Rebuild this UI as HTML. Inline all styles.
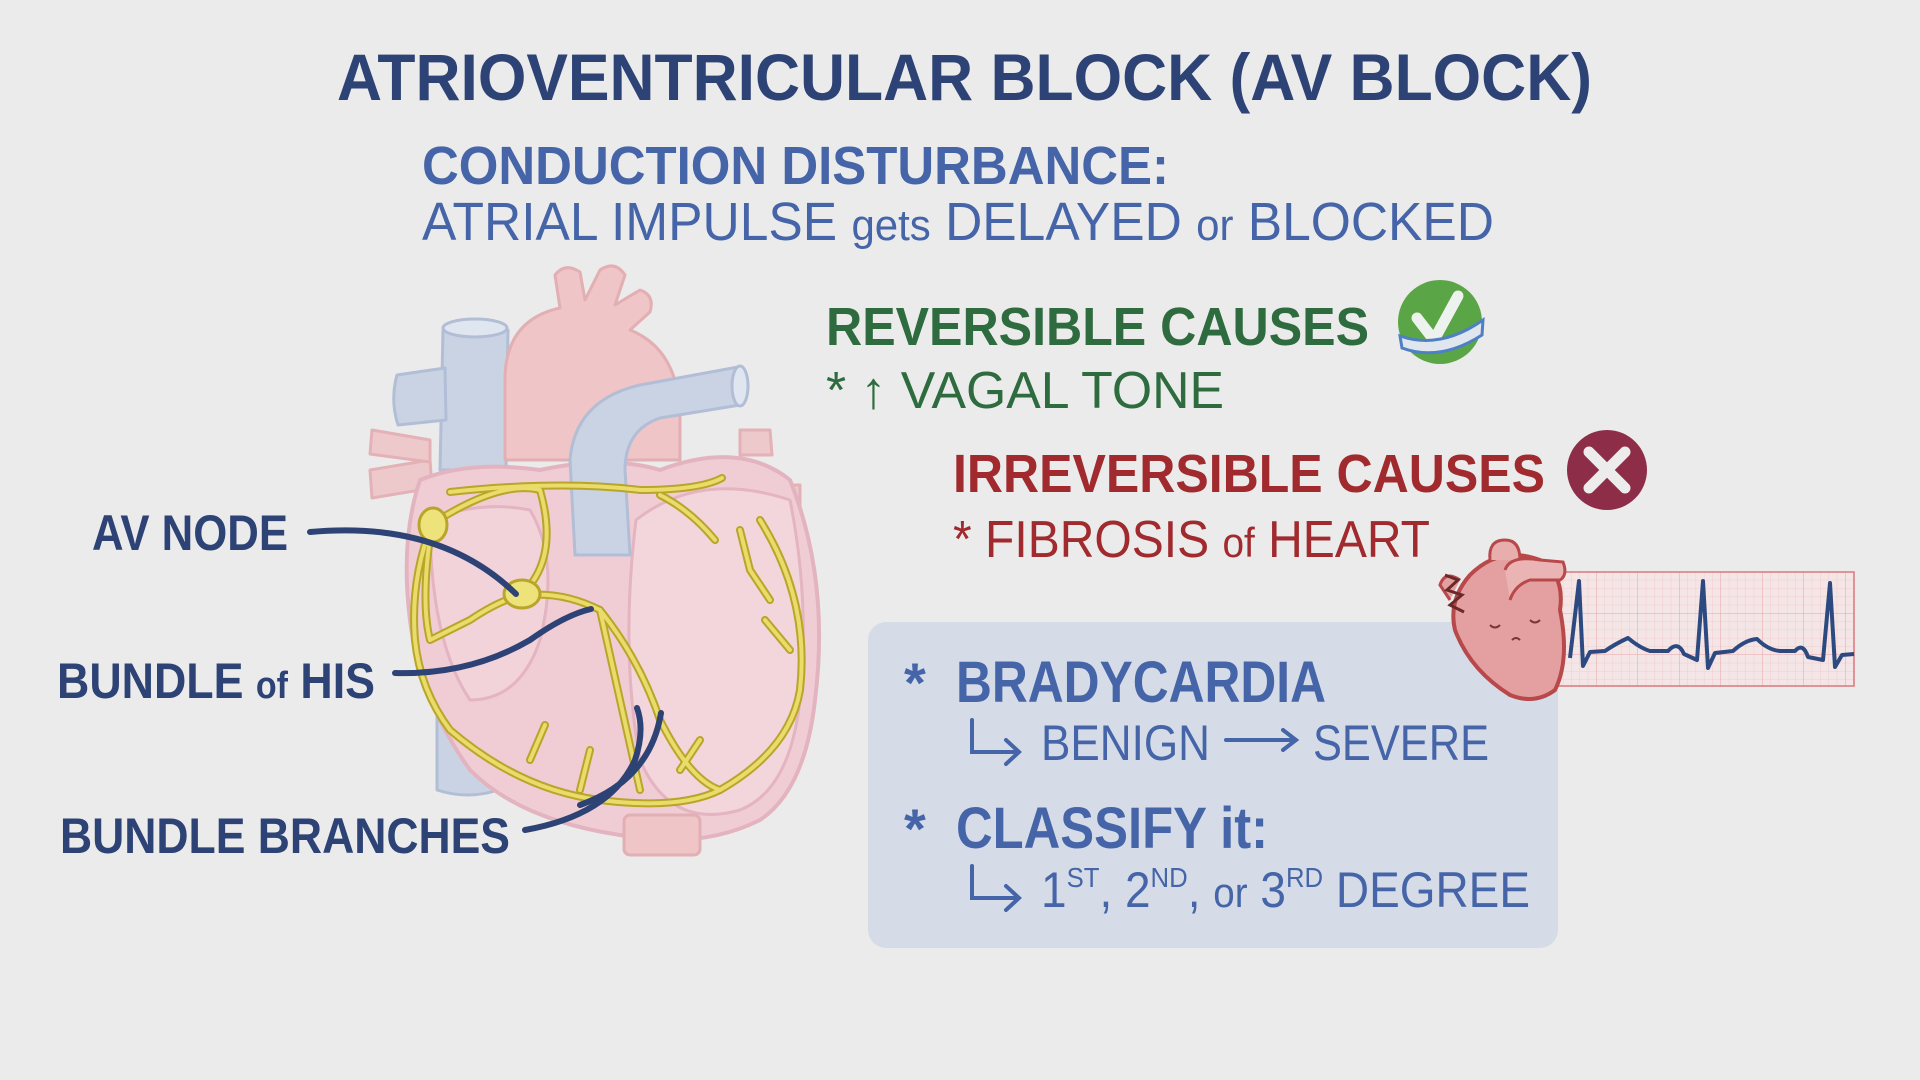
<!DOCTYPE html>
<html><head><meta charset="utf-8"><style>
html,body{margin:0;padding:0;background:#ebebeb;}
svg{display:block}
text{font-family:"Liberation Sans",sans-serif;}
</style></head><body>
<svg width="1920" height="1080" viewBox="0 0 1920 1080" xmlns="http://www.w3.org/2000/svg">
<rect width="1920" height="1080" fill="#ebebeb"/>

<!-- Titles -->
<text x="337" y="100" font-size="66" font-weight="bold" fill="#2d4275" textLength="1255" lengthAdjust="spacingAndGlyphs">ATRIOVENTRICULAR BLOCK (AV BLOCK)</text>
<text x="422" y="184" font-size="54" font-weight="bold" fill="#4565a8" textLength="747" lengthAdjust="spacingAndGlyphs">CONDUCTION DISTURBANCE:</text>
<text x="422" y="240" font-size="54" fill="#4565a8" textLength="1072" lengthAdjust="spacingAndGlyphs">ATRIAL IMPULSE <tspan font-size="44">gets</tspan> DELAYED <tspan font-size="44">or</tspan> BLOCKED</text>

<!-- Reversible -->
<text x="826" y="345" font-size="54" font-weight="bold" fill="#2e6b3e" textLength="543" lengthAdjust="spacingAndGlyphs">REVERSIBLE CAUSES</text>
<text x="826" y="408" font-size="52" fill="#2e6b3e" textLength="398" lengthAdjust="spacingAndGlyphs">* ↑ VAGAL TONE</text>
<circle cx="1440" cy="322" r="42" fill="#5aa546"/>
<path d="M1417 318 L1434 340 L1458 296" stroke="#eef2ee" stroke-width="11" fill="none" stroke-linecap="round" stroke-linejoin="round"/>
<path d="M1400 336 Q1440 350 1483 320 L1482 335 Q1440 362 1402 348 Z" fill="#dfe6ee" stroke="#4f7fc4" stroke-width="3"/>

<!-- Irreversible -->
<text x="953" y="492" font-size="54" font-weight="bold" fill="#a02a2e" textLength="592" lengthAdjust="spacingAndGlyphs">IRREVERSIBLE CAUSES</text>
<text x="953" y="557" font-size="52" fill="#a02a2e" textLength="477" lengthAdjust="spacingAndGlyphs">* FIBROSIS <tspan font-size="42">of</tspan> HEART</text>
<circle cx="1607" cy="470" r="40" fill="#8e2d48"/>
<path d="M1589 452 L1625 488 M1625 452 L1589 488" stroke="#ececec" stroke-width="11" stroke-linecap="round"/>

<!-- Box -->
<rect x="868" y="622" width="690" height="326" rx="18" fill="#d5dce8"/>
<text x="904" y="702" font-size="56" font-weight="bold" fill="#4565a8">*</text>
<text x="956" y="702" font-size="58" font-weight="bold" fill="#4565a8" textLength="370" lengthAdjust="spacingAndGlyphs">BRADYCARDIA</text>
<path d="M972 720 L972 752 L1018 752 M1006 740 L1019 752 L1006 764" stroke="#4565a8" stroke-width="4" fill="none" stroke-linecap="round"/>
<text x="1041" y="760" font-size="50" fill="#4565a8" textLength="169" lengthAdjust="spacingAndGlyphs">BENIGN</text>
<path d="M1226 740 L1295 740 M1283 730 L1296 740 L1283 750" stroke="#4565a8" stroke-width="4" fill="none" stroke-linecap="round"/>
<text x="1313" y="760" font-size="50" fill="#4565a8" textLength="176" lengthAdjust="spacingAndGlyphs">SEVERE</text>
<text x="904" y="848" font-size="56" font-weight="bold" fill="#4565a8">*</text>
<text x="956" y="848" font-size="58" font-weight="bold" fill="#4565a8" textLength="312" lengthAdjust="spacingAndGlyphs">CLASSIFY it:</text>
<path d="M972 866 L972 898 L1018 898 M1006 886 L1019 898 L1006 910" stroke="#4565a8" stroke-width="4" fill="none" stroke-linecap="round"/>
<text x="1041" y="907" font-size="50" fill="#4565a8" textLength="489" lengthAdjust="spacingAndGlyphs">1<tspan font-size="28" dy="-20">ST</tspan><tspan dy="20">, 2</tspan><tspan font-size="28" dy="-20">ND</tspan><tspan dy="20">, </tspan><tspan font-size="42">or</tspan> 3<tspan font-size="28" dy="-20">RD</tspan><tspan dy="20"> DEGREE</tspan></text>

<!-- ECG -->
<defs>
<pattern id="g" width="8.3" height="8.3" patternUnits="userSpaceOnUse" x="1555" y="572"><path d="M8.3 0 V8.3 M0 8.3 H8.3" stroke="#f2c6c6" stroke-width="0.8"/></pattern>
<pattern id="G" width="41.5" height="41.5" patternUnits="userSpaceOnUse" x="1555" y="572"><path d="M41.5 0 V41.5 M0 41.5 H41.5" stroke="#e7a2a4" stroke-width="1"/></pattern>
</defs>
<rect x="1555" y="572" width="299" height="114" fill="#f4e6e6"/>
<rect x="1555" y="572" width="299" height="114" fill="url(#g)"/>
<rect x="1555" y="572" width="299" height="114" fill="url(#G)"/>
<rect x="1555" y="572" width="299" height="114" fill="none" stroke="#d9787c" stroke-width="1.5"/>
<path d="M1570 658 L1579 581 L1583 666 L1590 652 L1605 651 Q1615 644 1628 638 Q1640 648 1650 651 L1668 651 Q1678 640 1684 654 L1697 660 L1703 581 L1708 668 L1715 653 L1733 651 Q1745 640 1757 639 Q1768 650 1780 651 L1795 651 Q1803 642 1808 657 L1823 660 L1830 583 L1835 667 L1842 655 L1854 654" stroke="#2d4a80" stroke-width="4" fill="none" stroke-linejoin="round"/>

<!-- small heart -->
<g>
<path d="M1470 575 Q1500 545 1540 560 Q1565 575 1560 610 Q1570 660 1555 690 Q1535 705 1510 695 Q1470 670 1455 630 Q1448 600 1470 575 Z" fill="#e4a0a0" stroke="#b8484a" stroke-width="4"/>
<path d="M1490 560 Q1488 540 1505 540 Q1520 540 1520 560" fill="#e8aeae" stroke="#b8484a" stroke-width="3"/>
<path d="M1505 570 Q1510 555 1540 560 L1563 562 Q1568 575 1560 580 L1530 580 Q1515 585 1510 600" fill="#eab4b4" stroke="#b8484a" stroke-width="3"/>
<path d="M1460 580 Q1445 570 1440 585 L1450 600" fill="#e4a0a0" stroke="#b8484a" stroke-width="3"/>
<path d="M1445 575 L1458 580 L1447 590 L1462 595 L1450 605 L1464 612" stroke="#6a2a2a" stroke-width="3" fill="none"/>
<path d="M1490 625 q5 5 10 0 M1530 620 q5 5 10 0 M1512 640 q4 -4 8 0" stroke="#7a3434" stroke-width="2" fill="none"/>
</g>

<!-- Big heart -->
<g stroke-linejoin="round">
<!-- pink vessels left -->
<path d="M370 470 L430 460 L432 488 L372 498 Z" fill="#eec9cc" stroke="#e3b1b6" stroke-width="3"/>
<path d="M372 430 L430 440 L430 462 L370 454 Z" fill="#eec9cc" stroke="#e3b1b6" stroke-width="3"/>
<!-- right pink vessels -->
<path d="M800 485 L775 485 L770 510 L800 508 Z" fill="#eec9cc" stroke="#e3b1b6" stroke-width="3"/>
<path d="M770 430 L740 430 L740 455 L772 455 Z" fill="#eec9cc" stroke="#e3b1b6" stroke-width="3"/>
<!-- SVC / IVC -->
<path d="M443 330 Q475 318 508 330 L506 470 L440 470 Z" fill="#c9d3e4" stroke="#b2bed6" stroke-width="3"/>
<ellipse cx="475" cy="328" rx="32" ry="9" fill="#dfe6f0" stroke="#b2bed6" stroke-width="3"/>
<path d="M437 700 L500 700 L498 790 Q468 800 437 790 Z" fill="#c9d3e4" stroke="#b2bed6" stroke-width="3"/>
<path d="M397 375 L445 368 L446 420 L398 425 Q390 400 397 375 Z" fill="#c9d3e4" stroke="#b2bed6" stroke-width="3"/>
<!-- aorta -->
<path d="M505 440 L505 380 Q505 320 560 308 L555 275 Q565 262 580 272 L585 300 L600 270 Q615 260 625 275 L615 305 L640 290 Q655 295 650 312 L630 330 Q680 350 680 420 L680 460 L505 460 Z" fill="#efc5c7" stroke="#e2afb3" stroke-width="3"/>
<!-- heart body -->
<path d="M420 480 Q470 460 540 470 Q610 455 660 470 Q740 440 790 480 Q830 580 815 700 Q805 790 760 820 Q700 850 620 835 Q520 820 470 770 Q420 700 410 620 Q400 540 420 480 Z" fill="#f0cdd5" stroke="#e3b4bf" stroke-width="4"/>
<path d="M636 520 Q700 470 790 500 Q810 600 800 700 Q790 790 740 810 Q670 830 640 760 Q620 650 636 520 Z" fill="#f3d6dc" stroke="#e4b4c0" stroke-width="3"/>
<path d="M430 520 Q480 500 530 510 Q560 560 540 640 Q520 700 470 700 Q430 640 430 520 Z" fill="#f2d3da" stroke="#e4b4c0" stroke-width="3"/>
<rect x="624" y="815" width="76" height="40" rx="6" fill="#efc5c7" stroke="#e2afb3" stroke-width="3"/>
<!-- pulmonary trunk -->
<path d="M575 555 L570 460 Q575 400 640 385 L738 367 Q750 385 740 405 L660 418 Q625 430 625 470 L630 555 Z" fill="#c9d3e4" stroke="#b2bed6" stroke-width="3"/>
<ellipse cx="740" cy="386" rx="8" ry="20" fill="#dfe6f0" stroke="#b2bed6" stroke-width="3"/>
<!-- conduction -->
<g stroke="#b8a52a" stroke-width="8" fill="none" stroke-linecap="round">
<path d="M432 524 Q410 580 415 640 Q420 690 450 730 Q520 790 600 800 Q680 810 720 790 Q790 750 800 690 Q810 600 760 520"/>
<path d="M432 524 Q500 480 540 490 Q560 560 520 596"/>
<path d="M432 524 Q420 600 430 640 L470 620 Q500 600 520 596"/>
<path d="M520 596 Q560 590 600 610 Q640 660 660 720 Q690 780 720 790"/>
<path d="M600 610 Q620 700 640 790"/>
<path d="M450 492 Q560 480 640 490 Q700 490 722 478 M660 495 Q690 510 715 540"/>
<path d="M740 530 L750 570 L770 600 M765 620 L790 650"/>
<path d="M530 760 L545 725 M580 790 L590 750 M680 770 L700 740"/>
</g>
<g stroke="#e9dc6a" stroke-width="4" fill="none" stroke-linecap="round">
<path d="M432 524 Q410 580 415 640 Q420 690 450 730 Q520 790 600 800 Q680 810 720 790 Q790 750 800 690 Q810 600 760 520"/>
<path d="M432 524 Q500 480 540 490 Q560 560 520 596"/>
<path d="M432 524 Q420 600 430 640 L470 620 Q500 600 520 596"/>
<path d="M520 596 Q560 590 600 610 Q640 660 660 720 Q690 780 720 790"/>
<path d="M600 610 Q620 700 640 790"/>
<path d="M450 492 Q560 480 640 490 Q700 490 722 478 M660 495 Q690 510 715 540"/>
<path d="M740 530 L750 570 L770 600 M765 620 L790 650"/>
<path d="M530 760 L545 725 M580 790 L590 750 M680 770 L700 740"/>
</g>
<ellipse cx="433" cy="525" rx="14" ry="17" fill="#ede37a" stroke="#b8a52a" stroke-width="3"/>
<ellipse cx="522" cy="594" rx="18" ry="14" fill="#ede37a" stroke="#b8a52a" stroke-width="3"/>
</g>

<!-- labels -->
<text x="92" y="550" font-size="50" font-weight="bold" fill="#2d4275" textLength="196" lengthAdjust="spacingAndGlyphs">AV NODE</text>
<text x="57" y="698" font-size="50" font-weight="bold" fill="#2d4275" textLength="318" lengthAdjust="spacingAndGlyphs">BUNDLE <tspan font-size="38">of</tspan> HIS</text>
<text x="60" y="853" font-size="50" font-weight="bold" fill="#2d4275" textLength="450" lengthAdjust="spacingAndGlyphs">BUNDLE BRANCHES</text>
<g stroke="#2d4275" stroke-width="6" fill="none" stroke-linecap="round">
<path d="M310 532 Q440 520 516 594"/>
<path d="M395 673 Q470 675 530 640 Q565 615 591 609"/>
<path d="M525 830 Q610 815 635 760 Q645 730 637 708"/>
<path d="M580 805 Q650 780 661 713"/>
</g>
</svg>
</body></html>
